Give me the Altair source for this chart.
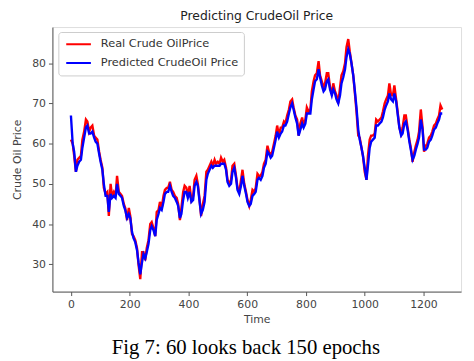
import altair as alt
import pandas as pd

times = [0,6,11,17,22,28,34,39,45,51,56,62,67,73,79,84,90,96,101,107,112,118,124,129,135,140,146,152,157,163,169,174,180,185,191,197,202,208,213,219,225,230,236,242,247,253,258,264,270,275,281,287,292,298,303,309,315,320,326,331,337,343,348,354,360,365,371,376,382,387,393,398,404,410,416,421,427,432,438,443,449,455,461,466,472,478,483,489,494,500,506,511,517,522,528,533,539,545,550,556,562,567,573,579,584,590,596,601,607,612,618,624,629,635,640,646,652,657,663,669,674,680,685,691,697,702,708,714,719,725,730,736,742,747,753,758,764,770,775,781,787,792,798,803,809,815,820,826,831,837,843,848,854,860,865,871,876,882,888,893,899,904,910,916,921,927,933,938,944,949,955,961,966,972,978,983,989,994,1000,1006,1011,1017,1022,1028,1034,1039,1045,1051,1057,1062,1068,1073,1079,1084,1090,1096,1101,1107,1112,1118,1124,1129,1135,1140,1146,1152,1157,1163,1169,1174,1180,1185,1191,1197,1202,1208,1213,1219,1225,1230,1236,1242,1247,1253,1258,1264]

real = [61,60,57,53,56,56.5,57,61,63,66,65.5,63,64,64.5,62,61.5,61,58,56,54,49,47.5,48,42,50,47,48,47,52,48,47.5,47,45,44,41,44,42,37.5,37,36,34,30,26.3,33,33,31,34,36,40,40.5,39,37,43,43.5,45.5,44,47,48.5,49,49,50.5,48.5,48,47,46.5,45,41,44,48,49.5,49,47,49.5,46,47,51,52,50,46,42,45,47,53,53.5,54.5,55.5,54.5,56,55,55.5,55,56.5,55.5,56,54,51,50,51,54.5,55,52,49,48,51,53.5,50,48,46,44.5,46,48.5,48,49,52.5,52,52,53,55,56,59.5,58,57,58,60,62,64.5,62,64,64,65.5,65,67,68.5,70.5,71,69,67,66,62,65,66.5,64.5,66,69,68,68.5,73,75.5,77,77.5,80.5,77,75.5,74,75,77.5,77.5,74,72.5,75,73,72,70,74,77,78,80,84,86,83,80,77,73,68,62,61.5,59,57,53,51,57,61,62,62,62.5,66,65.5,66,66.5,68,70,71,72,75,72,72,74.5,71,68,64,62.5,64,67,67,64,61,59,55.5,58,59.5,61,63,68.5,64,58,59.5,60,61.5,62,63,64.5,65,66,67,69.5,68.5]

predicted = [67,60,58,53,54.5,55.5,56,59,61.5,64,64.5,62.5,62.5,63,61.5,60.5,60,57.5,55.5,53.5,50,47,47,43,47.5,46.5,47,46.5,50,47.5,47,46.5,44.5,43.5,41.5,42.5,41.5,38,36.5,35.5,33.5,30.5,27.5,30.5,32.5,31.5,33,35,38.5,39.5,38.5,37,41,42.5,44,43.5,45.5,47.5,48,48,49.5,48,47,46.5,45.5,44.5,41.5,42.5,46,48,48,46.5,48,45.5,46,49.5,50.5,49.5,45.5,42.5,43.5,45.5,51,52.5,53.5,54.5,54,54.5,54.5,54.5,54.5,55,55,55,53.5,50.5,49.5,50,53,54,51.5,48.5,47.5,49.5,52,49.5,47.5,45.5,44.5,45,47,47.5,48,51,51.5,51,52,54,55,58,57.5,56.5,57,59,61,63,61.5,62.5,63,64.5,64.5,65.5,67.5,69,70,68.5,66.5,65,62,63.5,65,64,65,67.5,67.5,67.5,71,73.5,75.5,76,78.5,76.5,74.5,73,73.5,75.5,76,73.5,72,73.5,72.5,71,70,72,75,76.5,78.5,81.5,83.5,82.5,80,77,73.5,69,63.5,61,59,57,54,51,54.5,59,60.5,61,61.5,64.5,64.5,65,65.5,66.5,68.5,69.5,70.5,72.5,71,70.5,72.5,70.5,67.5,64,62,62.5,65,65.5,63.5,60.5,58.5,56,57,58.5,60,61.5,66,63.5,58.5,58.5,59,60.5,61,62,63.5,64,65,66,67.5,67.5]

series_names = ["Real Crude OilPrice", "Predicted CrudeOil Price"]
series_colors = ["#ff0000", "#0000ff"]
x_ticks = [0, 200, 400, 600, 800, 1000, 1200]
y_ticks = [30, 40, 50, 60, 70, 80]
caption = "Fig 7: 60 looks back 150 epochs"

df = pd.DataFrame({"Time": times, "real": real, "predicted": predicted})

W, H = 414, 268
font = "DejaVu Sans"

color_scale = alt.Scale(domain=series_names, range=series_colors)
x_enc = alt.X("Time:Q", scale=alt.Scale(domain=[-63, 1328], nice=False, zero=False),
              axis=alt.Axis(values=x_ticks, format="d", title="Time", grid=False, tickSize=4,
                            labelPadding=3, titlePadding=4, labelFontSize=11,
                            titleFontSize=11, labelColor="#444", titleColor="#444",
                            titleFontWeight="normal", labelFont=font, titleFont=font,
                            domainColor="#555", tickColor="#555"))
y_scale = alt.Scale(domain=[23.2, 89.0], nice=False, zero=False)
y_axis = alt.Axis(values=y_ticks, title="Crude Oil Price", grid=False, tickSize=4,
                  labelPadding=3, titlePadding=9, labelFontSize=11, titleFontSize=11,
                  labelColor="#444", titleColor="#444", titleFontWeight="normal",
                  labelFont=font, titleFont=font, domainColor="#555", tickColor="#555")

legend = alt.Legend(title=None, orient="none", legendX=6, legendY=5,
                    symbolType="stroke", symbolSize=625, symbolStrokeWidth=2,
                    clipHeight=15, labelFontSize=11.5, labelFont=font, labelColor="#333",
                    strokeColor="#ccc", fillColor="white", cornerRadius=3,
                    padding=5, rowPadding=4, labelOffset=9, symbolOffset=2)

color_enc = alt.Color("series:N", scale=color_scale, legend=legend, sort=series_names)

real_line = alt.Chart(df).transform_calculate(series="'%s'" % series_names[0]).mark_line(strokeWidth=2.4).encode(
    x=x_enc,
    y=alt.Y("real:Q", scale=y_scale, axis=y_axis),
    color=color_enc,
)
pred_line = alt.Chart(df).transform_calculate(series="'%s'" % series_names[1]).mark_line(strokeWidth=2.4).encode(
    x=x_enc,
    y=alt.Y("predicted:Q", scale=y_scale, axis=y_axis),
    color=color_enc,
)
cap = alt.Chart(pd.DataFrame({"t": [caption]})).mark_text(
    font="Liberation Serif", fontSize=21, color="black", baseline="alphabetic", align="center"
).encode(text="t:N", x=alt.value(196), y=alt.value(331))

chart = alt.layer(real_line, pred_line, cap).properties(
    width=W, height=H,
    title=alt.TitleParams("Predicting CrudeOil Price", fontSize=12.5, font=font,
                          fontWeight="normal", color="#222", offset=5),
    autosize=alt.AutoSizeParams(type="none"),
    padding={"left": 45, "top": 17, "right": 5, "bottom": 68},
).configure_view(stroke="#555", strokeWidth=1).configure(background="white")

chart.save("out.html", embed_options={"renderer": "svg", "actions": False})
